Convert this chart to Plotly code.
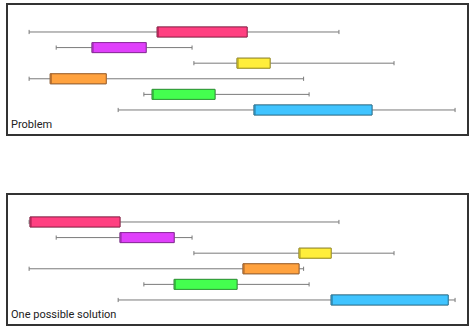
import plotly.graph_objects as go
from plotly.subplots import make_subplots

# Rows (tasks) top to bottom
rows = [1, 2, 3, 4, 5, 6]
fills = ["#FF4081", "#E040FB", "#FFEE3B", "#FFA23F", "#44FF4F", "#40C4FF"]
borders = ["#A0204E", "#8E2A9E", "#A89A20", "#A8652A", "#2E9E36", "#2A7DA0"]

# Whisker extents (same in both panels)
w_min = [4.6, 10.5, 40.5, 4.6, 29.6, 24.0]
w_max = [72.1, 40.1, 84.1, 64.4, 65.6, 97.4]

# Box extents, "Problem" panel
p_start = [32.5, 18.3, 49.9, 9.2, 31.4, 53.6]
p_end = [52.1, 30.1, 57.1, 21.4, 45.1, 79.3]

# Box extents, "One possible solution" panel
s_start = [4.8, 24.4, 63.4, 51.2, 36.2, 70.4]
s_end = [24.4, 36.2, 70.4, 63.4, 49.9, 95.9]

panel_labels = ["Problem", "One possible solution"]

fig = make_subplots(rows=2, cols=1)

for r, (starts, ends) in enumerate([(p_start, p_end), (s_start, s_end)], start=1):
    for i in range(len(rows)):
        # whiskers (gray)
        fig.add_trace(go.Box(
            orientation="h", y=[rows[i]],
            q1=[starts[i]], median=[starts[i]], q3=[ends[i]],
            lowerfence=[w_min[i]], upperfence=[w_max[i]],
            width=0.64, whiskerwidth=0.42, boxpoints=False,
            fillcolor="rgba(0,0,0,0)", line=dict(color="#7a7a7a", width=1),
            hoverinfo="skip", showlegend=False,
        ), row=r, col=1)
        # coloured box
        fig.add_trace(go.Box(
            orientation="h", y=[rows[i]],
            q1=[starts[i]], median=[starts[i]], q3=[ends[i]],
            lowerfence=[starts[i]], upperfence=[ends[i]],
            width=0.64, whiskerwidth=0, boxpoints=False,
            fillcolor=fills[i], line=dict(color=borders[i], width=1),
            hoverinfo="skip", showlegend=False,
        ), row=r, col=1)

xdom = [8 / 474, 467 / 474]
ydoms = [[(330 - 134) / 330, (330 - 5) / 330], [(330 - 324) / 330, (330 - 195) / 330]]

axis_common = dict(showgrid=False, zeroline=False, showticklabels=False, ticks="",
                   showline=True, linecolor="#333333", linewidth=2, mirror=True)

for r in (1, 2):
    fig.update_xaxes(range=[0, 100], domain=xdom, **axis_common, row=r, col=1)
    fig.update_yaxes(range=[7.54, -0.73], domain=ydoms[r - 1], **axis_common, row=r, col=1)

fig.add_annotation(text=panel_labels[0], xref="x domain", yref="y domain", x=0.003, y=0.005,
                   xanchor="left", yanchor="bottom", showarrow=False,
                   font=dict(family="Roboto", size=11, color="#222222"))
fig.add_annotation(text=panel_labels[1], xref="x2 domain", yref="y2 domain", x=0.003, y=0.005,
                   xanchor="left", yanchor="bottom", showarrow=False,
                   font=dict(family="Roboto", size=11, color="#222222"))

fig.update_layout(width=474, height=330, margin=dict(l=0, r=0, t=0, b=0),
                  paper_bgcolor="white", plot_bgcolor="white", boxmode="overlay")

fig.write_html("out.html")
